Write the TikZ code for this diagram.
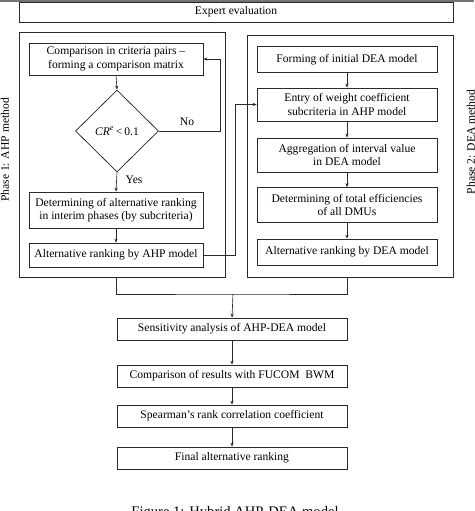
\documentclass[tikz,border=0pt]{standalone}
\usepackage{fontspec}
\setmainfont{Liberation Serif}
\usetikzlibrary{shapes.geometric,arrows.meta}
\definecolor{ln}{HTML}{2A2A2A}
\begin{document}
\begin{tikzpicture}[x=1pt,y=-1pt,
  txt/.style={font=\fontsize{11.6}{13.3}\selectfont, text=black},
  box/.style={txt, draw=ln, line width=0.75pt, fill=white, align=center, inner sep=0pt},
  outer/.style={draw=ln, line width=0.8pt, inner sep=0pt},
  arr/.style={draw=ln, line width=0.65pt, -{Stealth[length=4pt,width=3.2pt]}},
  plain/.style={draw=ln, line width=0.65pt}]
\useasboundingbox (0,0) rectangle (474,511);
\fill[black!55] (0,0) rectangle (474,1.6);
% top
\node[box, minimum width=434pt, minimum height=20pt] (exp) at (236,12) {Expert evaluation};
% outer frames
\node[outer, minimum width=206pt, minimum height=245pt] (ahpout) at (122,154.5) {};
\node[outer, minimum width=206pt, minimum height=242pt] (deaout) at (350,156) {};
% phase labels
\node[txt, rotate=90] (p1) at (5,150) {Phase 1: AHP method};
\node[txt, rotate=90] (p2) at (471,142) {Phase 2: DEA method};
% AHP column
\node[box, minimum width=174pt, minimum height=32pt] (cmp) at (116,59) {Comparison in criteria pairs --\\forming a comparison matrix};
\node[txt, diamond, draw=ln, line width=0.75pt, minimum width=83pt, minimum height=82pt, inner sep=0pt] (cr) at (117,131) {\textit{CR}\textsuperscript{\textit{e}}\,<\,0.1};
\node[box, minimum width=174pt, minimum height=36pt] (det) at (116,210) {Determining of alternative ranking\\in interim phases (by subcriteria)};
\node[box, minimum width=174pt, minimum height=24pt] (ahpr) at (116,255) {Alternative ranking by AHP model};
% DEA column
\node[box, minimum width=180pt, minimum height=26pt] (form) at (347,59.5) {Forming of initial DEA model};
\node[box, minimum width=180pt, minimum height=33pt] (entry) at (347,104.5) {Entry of weight coefficient\\subcriteria in AHP model};
\node[box, minimum width=180pt, minimum height=34pt] (agg) at (347,155) {Aggregation of interval value\\in DEA model};
\node[box, minimum width=180pt, minimum height=35pt] (dtot) at (347,205) {Determining of total efficiencies\\of all DMUs};
\node[box, minimum width=180pt, minimum height=26pt] (dear) at (347,252) {Alternative ranking by DEA model};
% bottom column
\node[box, minimum width=230pt, minimum height=22pt] (sens) at (232,329) {Sensitivity analysis of AHP-DEA model};
\node[box, minimum width=230pt, minimum height=22pt] (fuc) at (232,376) {Comparison of results with FUCOM\ \ BWM};
\node[box, minimum width=230pt, minimum height=22pt] (spear) at (232,416) {Spearman's rank correlation coefficient};
\node[box, minimum width=230pt, minimum height=22pt] (fin) at (232,458) {Final alternative ranking};
\node[font=\fontsize{14.6}{16}\selectfont, anchor=base] (cap) at (235,516) {Figure 1: Hybrid AHP-DEA model};
% AHP connectors
\draw[arr] (cmp.south) -- (cr.north);
\draw[arr] (cr.south) -- (det.north);
\draw[arr] (det.south) -- (ahpr.north);
\draw[arr] (cr.east) -- ++(61,0) |- (cmp.east);
\node[txt] (no) at (187,122) {No};
\node[txt] (yes) at (134,180) {Yes};
% AHP to DEA
\draw[arr] (ahpr.east) -- ++(32,0) |- (entry.west);
% DEA connectors
\draw[arr] (form.south) -- (entry.north);
\draw[arr] (entry.south) -- (agg.north);
\draw[arr] (agg.south) -- (dtot.north);
\draw[arr] (dtot.south) -- (dear.north);
% merge bracket
\coordinate (br) at (233,294);
\draw[plain] (ahpout.south -| sens.west) |- (br) -| (deaout.south -| sens.east);
\draw[arr] (br) -- (sens.north);
\draw[arr] (sens.south) -- (fuc.north);
\draw[arr] (fuc.south) -- (spear.north);
\draw[arr] (spear.south) -- (fin.north);
\end{tikzpicture}
\end{document}
